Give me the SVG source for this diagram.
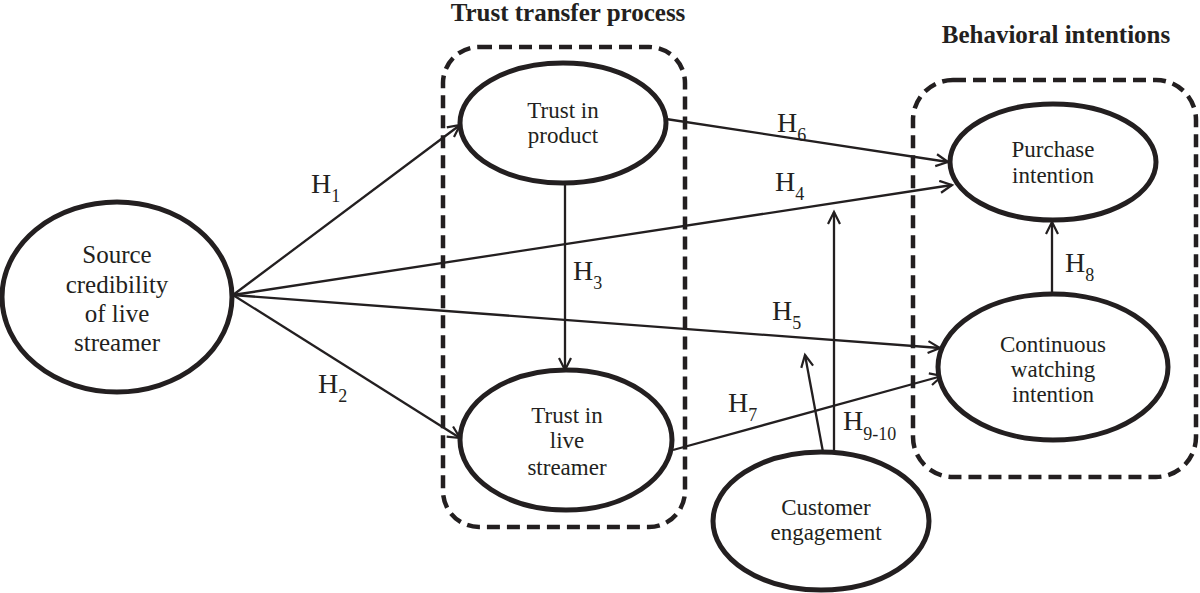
<svg xmlns="http://www.w3.org/2000/svg" width="1200" height="593" viewBox="0 0 1200 593">
<defs>
<marker id="arr" markerUnits="userSpaceOnUse" markerWidth="16" markerHeight="16" refX="13" refY="7" orient="auto">
<path d="M1,1 L13,7 L1,13" fill="none" stroke="#231f20" stroke-width="2.2"/>
</marker>
</defs>
<style>
.node{fill:#fff;stroke:#231f20;stroke-width:5}
.box{fill:none;stroke:#231f20;stroke-width:4.5;stroke-dasharray:13 7}
.lbl{font-family:"Liberation Serif","Times New Roman",serif;font-size:23px;fill:#231f20;text-anchor:middle}
.src{font-size:25px}
.title{font-family:"Liberation Serif","Times New Roman",serif;font-size:25px;font-weight:bold;fill:#231f20;text-anchor:middle}
.h{font-family:"Liberation Serif","Times New Roman",serif;font-size:28px;fill:#231f20}
.sub{font-size:18px}
.con{fill:none;stroke:#231f20;stroke-width:2.3;marker-end:url(#arr)}
</style>
<rect width="1200" height="593" fill="#fff"/>
<g id="group-trust">
<rect class="box" x="443" y="47" width="242" height="480" rx="36" ry="36"/>
<text class="title" x="568" y="21">Trust transfer process</text>
</g>
<g id="group-behavior">
<rect class="box" x="913" y="80" width="283" height="397" rx="40" ry="40"/>
<text class="title" x="1056" y="43">Behavioral intentions</text>
</g>
<g id="connectors">
<line class="con" x1="233" y1="295" x2="460" y2="125"/>
<line class="con" x1="233" y1="295" x2="460" y2="438"/>
<line class="con" x1="565" y1="183" x2="565" y2="370"/>
<line class="con" x1="233" y1="295" x2="952" y2="185"/>
<line class="con" x1="233" y1="295" x2="940" y2="348"/>
<line class="con" x1="666" y1="119" x2="948" y2="162"/>
<line class="con" x1="673" y1="450" x2="942" y2="376"/>
<line class="con" x1="1052" y1="293" x2="1052" y2="222"/>
<line class="con" x1="834" y1="452" x2="834" y2="212"/>
<line class="con" x1="823" y1="452" x2="805" y2="355"/>
<text class="h" x="311" y="193">H<tspan class="sub" dy="9">1</tspan></text>
<text class="h" x="318" y="393">H<tspan class="sub" dy="9">2</tspan></text>
<text class="h" x="573" y="280">H<tspan class="sub" dy="9">3</tspan></text>
<text class="h" x="775" y="191">H<tspan class="sub" dy="9">4</tspan></text>
<text class="h" x="772" y="320">H<tspan class="sub" dy="9">5</tspan></text>
<text class="h" x="777" y="132">H<tspan class="sub" dy="9">6</tspan></text>
<text class="h" x="728" y="412">H<tspan class="sub" dy="9">7</tspan></text>
<text class="h" x="1065" y="272">H<tspan class="sub" dy="9">8</tspan></text>
<text class="h" x="843" y="430">H<tspan class="sub" dy="10">9-10</tspan></text>
</g>
<g id="node-source">
<ellipse class="node" cx="117" cy="297" rx="115" ry="95"/>
<text class="lbl src" x="117" y="263">Source</text>
<text class="lbl src" x="117" y="293">credibility</text>
<text class="lbl src" x="117" y="322">of live</text>
<text class="lbl src" x="117" y="351">streamer</text>
</g>
<g id="node-trust-product">
<ellipse class="node" cx="563" cy="123" rx="103" ry="60"/>
<text class="lbl" x="563" y="118">Trust in</text>
<text class="lbl" x="563" y="143">product</text>
</g>
<g id="node-trust-streamer">
<ellipse class="node" cx="566" cy="440" rx="106" ry="70"/>
<text class="lbl" x="567" y="423">Trust in</text>
<text class="lbl" x="567" y="448">live</text>
<text class="lbl" x="567" y="475">streamer</text>
</g>
<g id="node-purchase">
<ellipse class="node" cx="1053" cy="162" rx="103" ry="58"/>
<text class="lbl" x="1053" y="157">Purchase</text>
<text class="lbl" x="1053" y="183">intention</text>
</g>
<g id="node-continuous">
<ellipse class="node" cx="1053" cy="367" rx="115" ry="73"/>
<text class="lbl" x="1053" y="352">Continuous</text>
<text class="lbl" x="1053" y="377">watching</text>
<text class="lbl" x="1053" y="402">intention</text>
</g>
<g id="node-engagement">
<ellipse class="node" cx="821" cy="521" rx="108" ry="69"/>
<text class="lbl" x="826" y="515">Customer</text>
<text class="lbl" x="826" y="540">engagement</text>
</g>
</svg>
